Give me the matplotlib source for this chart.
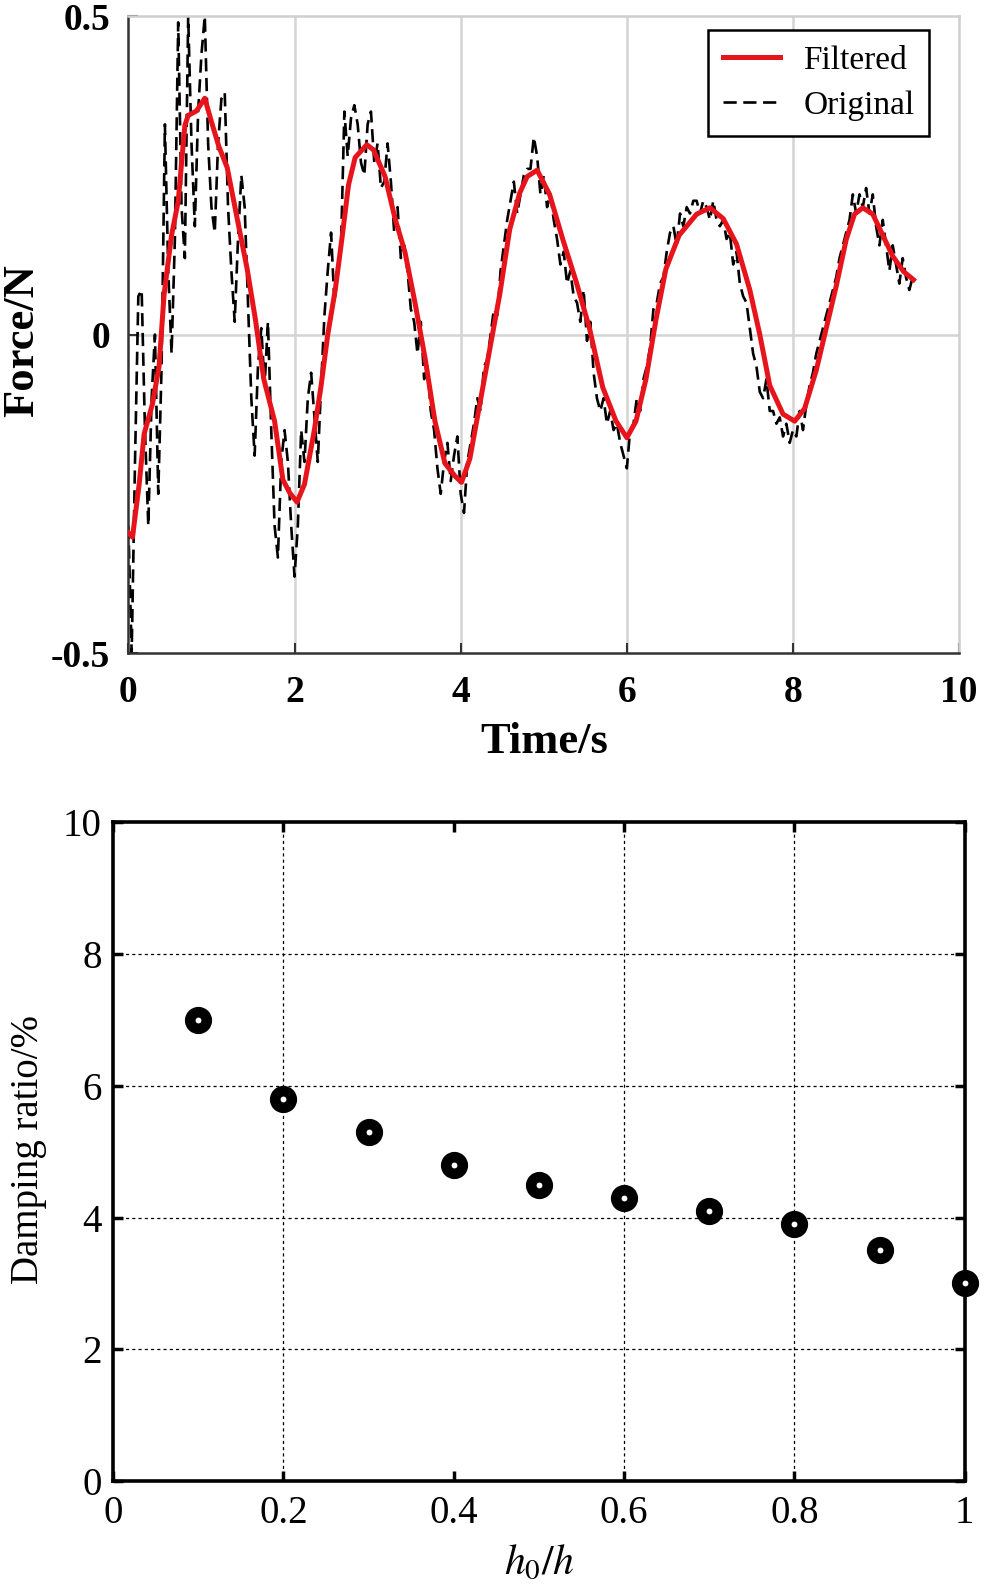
import numpy as np
import matplotlib
matplotlib.use("Agg")
import matplotlib.pyplot as plt

plt.rcParams["font.family"] = ["Liberation Serif", "DejaVu Serif"]
plt.rcParams["mathtext.fontset"] = "stix"

# =========================
# 1. DATA
# =========================
# filtered force signal
filt_t = [0.00, 0.05, 0.13, 0.19, 0.29, 0.37, 0.43, 0.52, 0.60, 0.68, 0.72, 0.82,
          0.92, 1.00, 1.09, 1.19, 1.31, 1.43, 1.53, 1.63, 1.76, 1.86, 1.94, 2.03,
          2.12, 2.24, 2.32, 2.40, 2.49, 2.57, 2.65, 2.73, 2.87, 2.95, 3.09, 3.21,
          3.33, 3.45, 3.57, 3.69, 3.81, 3.93, 4.01, 4.11, 4.23, 4.35, 4.47, 4.59,
          4.71, 4.80, 4.92, 5.07, 5.23, 5.39, 5.55, 5.71, 5.87, 6.00, 6.11, 6.23,
          6.35, 6.47, 6.63, 6.84, 7.00, 7.16, 7.32, 7.48, 7.60, 7.72, 7.88, 8.02,
          8.14, 8.28, 8.40, 8.52, 8.64, 8.74, 8.84, 8.96, 9.08, 9.20, 9.33, 9.45]
filt_f = [-0.311, -0.318, -0.235, -0.156, -0.109, -0.050, 0.063, 0.156, 0.209, 0.328, 0.344, 0.351,
          0.371, 0.334, 0.295, 0.262, 0.182, 0.103, 0.023, -0.070, -0.136, -0.228, -0.248, -0.263,
          -0.235, -0.149, -0.080, 0.000, 0.070, 0.150, 0.235, 0.278, 0.298, 0.290, 0.248, 0.182,
          0.129, 0.050, -0.036, -0.136, -0.202, -0.222, -0.232, -0.195, -0.109, -0.023, 0.063, 0.165,
          0.222, 0.248, 0.258, 0.220, 0.149, 0.083, 0.010, -0.083, -0.136, -0.162, -0.136, -0.070,
          0.023, 0.103, 0.156, 0.189, 0.199, 0.182, 0.142, 0.070, 0.000, -0.080, -0.125, -0.136,
          -0.116, -0.056, 0.010, 0.076, 0.149, 0.189, 0.199, 0.189, 0.156, 0.123, 0.099, 0.086]

# original (raw) signal, one sample every 0.04 s, one row per second
orig_dt = 0.04
orig_f = [
    -0.30, -0.50, -0.20, 0.06, 0.07, -0.15, -0.30, -0.10, 0.00, -0.25, -0.05, 0.33, 0.10,
    -0.03, 0.15, 0.49, 0.20, 0.12, 0.50, 0.30, 0.17, 0.35, 0.44, 0.50, 0.30,
    0.20, 0.16, 0.30, 0.37, 0.38, 0.20, 0.10, 0.02, 0.15, 0.25, 0.20, 0.05, -0.10,
    -0.19, -0.05, 0.01, -0.08, 0.02, -0.15, -0.30, -0.35, -0.20, -0.15, -0.20, -0.30,
    -0.38, -0.30, -0.15, -0.20, -0.10, -0.06, -0.13, -0.20, -0.08, 0.03, 0.10, 0.16, 0.05,
    0.10, 0.14, 0.35, 0.28, 0.34, 0.36, 0.33, 0.27, 0.25, 0.33, 0.35, 0.27,
    0.30, 0.23, 0.24, 0.30, 0.24, 0.16, 0.20, 0.12, 0.14, 0.10, 0.04, 0.02, -0.03,
    0.02, -0.07, -0.05, -0.12, -0.15, -0.21, -0.25, -0.20, -0.17, -0.23, -0.19, -0.16,
    -0.25, -0.28, -0.20, -0.17, -0.14, -0.10, -0.12, -0.05, -0.04, 0.00, 0.04, 0.03, 0.10,
    0.14, 0.18, 0.21, 0.24, 0.19, 0.22, 0.25, 0.26, 0.26, 0.31, 0.28, 0.22,
    0.25, 0.20, 0.22, 0.18, 0.15, 0.11, 0.13, 0.08, 0.10, 0.06, 0.05, 0.02, 0.07,
    -0.01, 0.02, -0.06, -0.10, -0.12, -0.10, -0.14, -0.12, -0.15, -0.14, -0.17, -0.19,
    -0.21, -0.15, -0.14, -0.10, -0.12, -0.07, -0.05, -0.02, 0.04, 0.05, 0.08, 0.09, 0.13,
    0.16, 0.17, 0.14, 0.19, 0.17, 0.20, 0.19, 0.21, 0.21, 0.19, 0.21, 0.20,
    0.18, 0.21, 0.18, 0.17, 0.18, 0.15, 0.16, 0.11, 0.13, 0.08, 0.06, 0.05, 0.01,
    -0.03, -0.05, -0.09, -0.10, -0.07, -0.12, -0.12, -0.14, -0.13, -0.16, -0.14, -0.17,
    -0.15, -0.16, -0.12, -0.15, -0.11, -0.08, -0.06, -0.03, -0.01, 0.01, 0.03, 0.05, 0.07,
    0.09, 0.12, 0.14, 0.16, 0.18, 0.22, 0.19, 0.22, 0.20, 0.23, 0.19, 0.22,
    0.17, 0.14, 0.18, 0.14, 0.10, 0.14, 0.11, 0.08, 0.12, 0.09, 0.07, 0.09,
]
orig_t = np.arange(len(orig_f)) * orig_dt

# damping ratio vs h0/h
ratio = [0.1, 0.2, 0.3, 0.4, 0.5, 0.6, 0.7, 0.8, 0.9, 1.0]
damping = [7.0, 5.8, 5.3, 4.8, 4.5, 4.3, 4.1, 3.9, 3.5, 3.0]

x_ticks_top = [0, 2, 4, 6, 8, 10]
y_ticks_top = [-0.5, 0, 0.5]
x_ticks_bot = [0, 0.2, 0.4, 0.6, 0.8, 1]
x_tick_labels_bot = ["0", "0.2", "0.4", "0.6", "0.8", "1"]
y_ticks_bot = [0, 2, 4, 6, 8, 10]

# =========================
# 2. FIGURE
# =========================
fig = plt.figure(figsize=(9.95, 15.87), dpi=100)
ax1 = fig.add_axes([0.129, 0.5885, 0.835, 0.4014])
ax2 = fig.add_axes([0.1136, 0.0668, 0.856, 0.415])

# ---- top: force time history ----
for x in [2, 4, 6, 8]:
    ax1.axvline(x, color="#d4d4d4", lw=1.8, zorder=0)
ax1.axhline(0, color="#d4d4d4", lw=1.8, zorder=0)

ax1.plot(orig_t, orig_f, color="black", lw=1.9, dashes=(5, 2.5), label="Original", zorder=2)
ax1.plot(filt_t, filt_f, color="#e8141c", lw=3.6, label="Filtered", zorder=3,
         solid_joinstyle="round")

ax1.set_xlim(0, 10)
ax1.set_ylim(-0.5, 0.5)
ax1.set_xticks(x_ticks_top)
ax1.set_yticks(y_ticks_top)
ax1.set_yticklabels(["-0.5", "0", "0.5"])
ax1.tick_params(direction="in", length=7, width=1.5, color="#333333", pad=13)
for lab in ax1.get_xticklabels() + ax1.get_yticklabels():
    lab.set_fontsize(27)
    lab.set_fontweight("bold")
ax1.tick_params(axis="x", pad=16)
for side in ["left", "bottom"]:
    ax1.spines[side].set_color("#333333")
    ax1.spines[side].set_linewidth(1.8)
for side in ["top", "right"]:
    ax1.spines[side].set_color("#cfcfcf")
    ax1.spines[side].set_linewidth(1.8)

ax1.set_xlabel("Time/s", fontsize=32, fontweight="bold")
ax1.set_ylabel("Force/N", fontsize=32, fontweight="bold")
ax1.xaxis.set_label_coords(0.5, -0.14)
ax1.yaxis.set_label_coords(-0.128, 0.49)
ax1.xaxis.label.set_va("center")
ax1.yaxis.label.set_va("center")

h, l = ax1.get_legend_handles_labels()
leg = ax1.legend(h[::-1], l[::-1], loc="upper right", bbox_to_anchor=(0.964, 0.978),
                 borderaxespad=0, fontsize=24, fancybox=False, framealpha=1,
                 edgecolor="black", handlelength=1.7, labelspacing=0.45,
                 borderpad=0.45, handletextpad=0.7)
leg.get_frame().set_linewidth(1.8)

# ---- bottom: damping ratio ----
for y in [2, 4, 6, 8]:
    ax2.axhline(y, color="black", lw=0.9, dashes=(2.5, 2.5), zorder=0)
for x in [0.2, 0.6, 0.8]:
    ax2.axvline(x, color="black", lw=0.9, dashes=(2.5, 2.5), zorder=0)

ax2.plot(ratio, damping, "o", ms=12.0, mfc="white", mec="black", mew=7.6,
         ls="none", clip_on=False, zorder=5)

ax2.set_xlim(0, 1)
ax2.set_ylim(0, 10)
ax2.set_xticks(x_ticks_bot)
ax2.set_xticklabels(x_tick_labels_bot)
ax2.set_yticks(y_ticks_bot)
ax2.tick_params(direction="in", length=7, width=2.5, top=True, right=True,
                labelsize=28)
ax2.tick_params(axis="x", pad=10)
ax2.tick_params(axis="y", pad=8)
for side in ax2.spines:
    ax2.spines[side].set_linewidth(2.6)
    ax2.spines[side].set_color("black")

ax2.set_xlabel(r"$h_0/h$", fontsize=30)
ax2.set_ylabel("Damping ratio/%", fontsize=28)
ax2.xaxis.set_label_coords(0.5, -0.126)
ax2.yaxis.set_label_coords(-0.0995, 0.504)
ax2.xaxis.label.set_va("center")
ax2.yaxis.label.set_va("center")

plt.savefig("out.png", dpi=100)
print("saved out.png")
